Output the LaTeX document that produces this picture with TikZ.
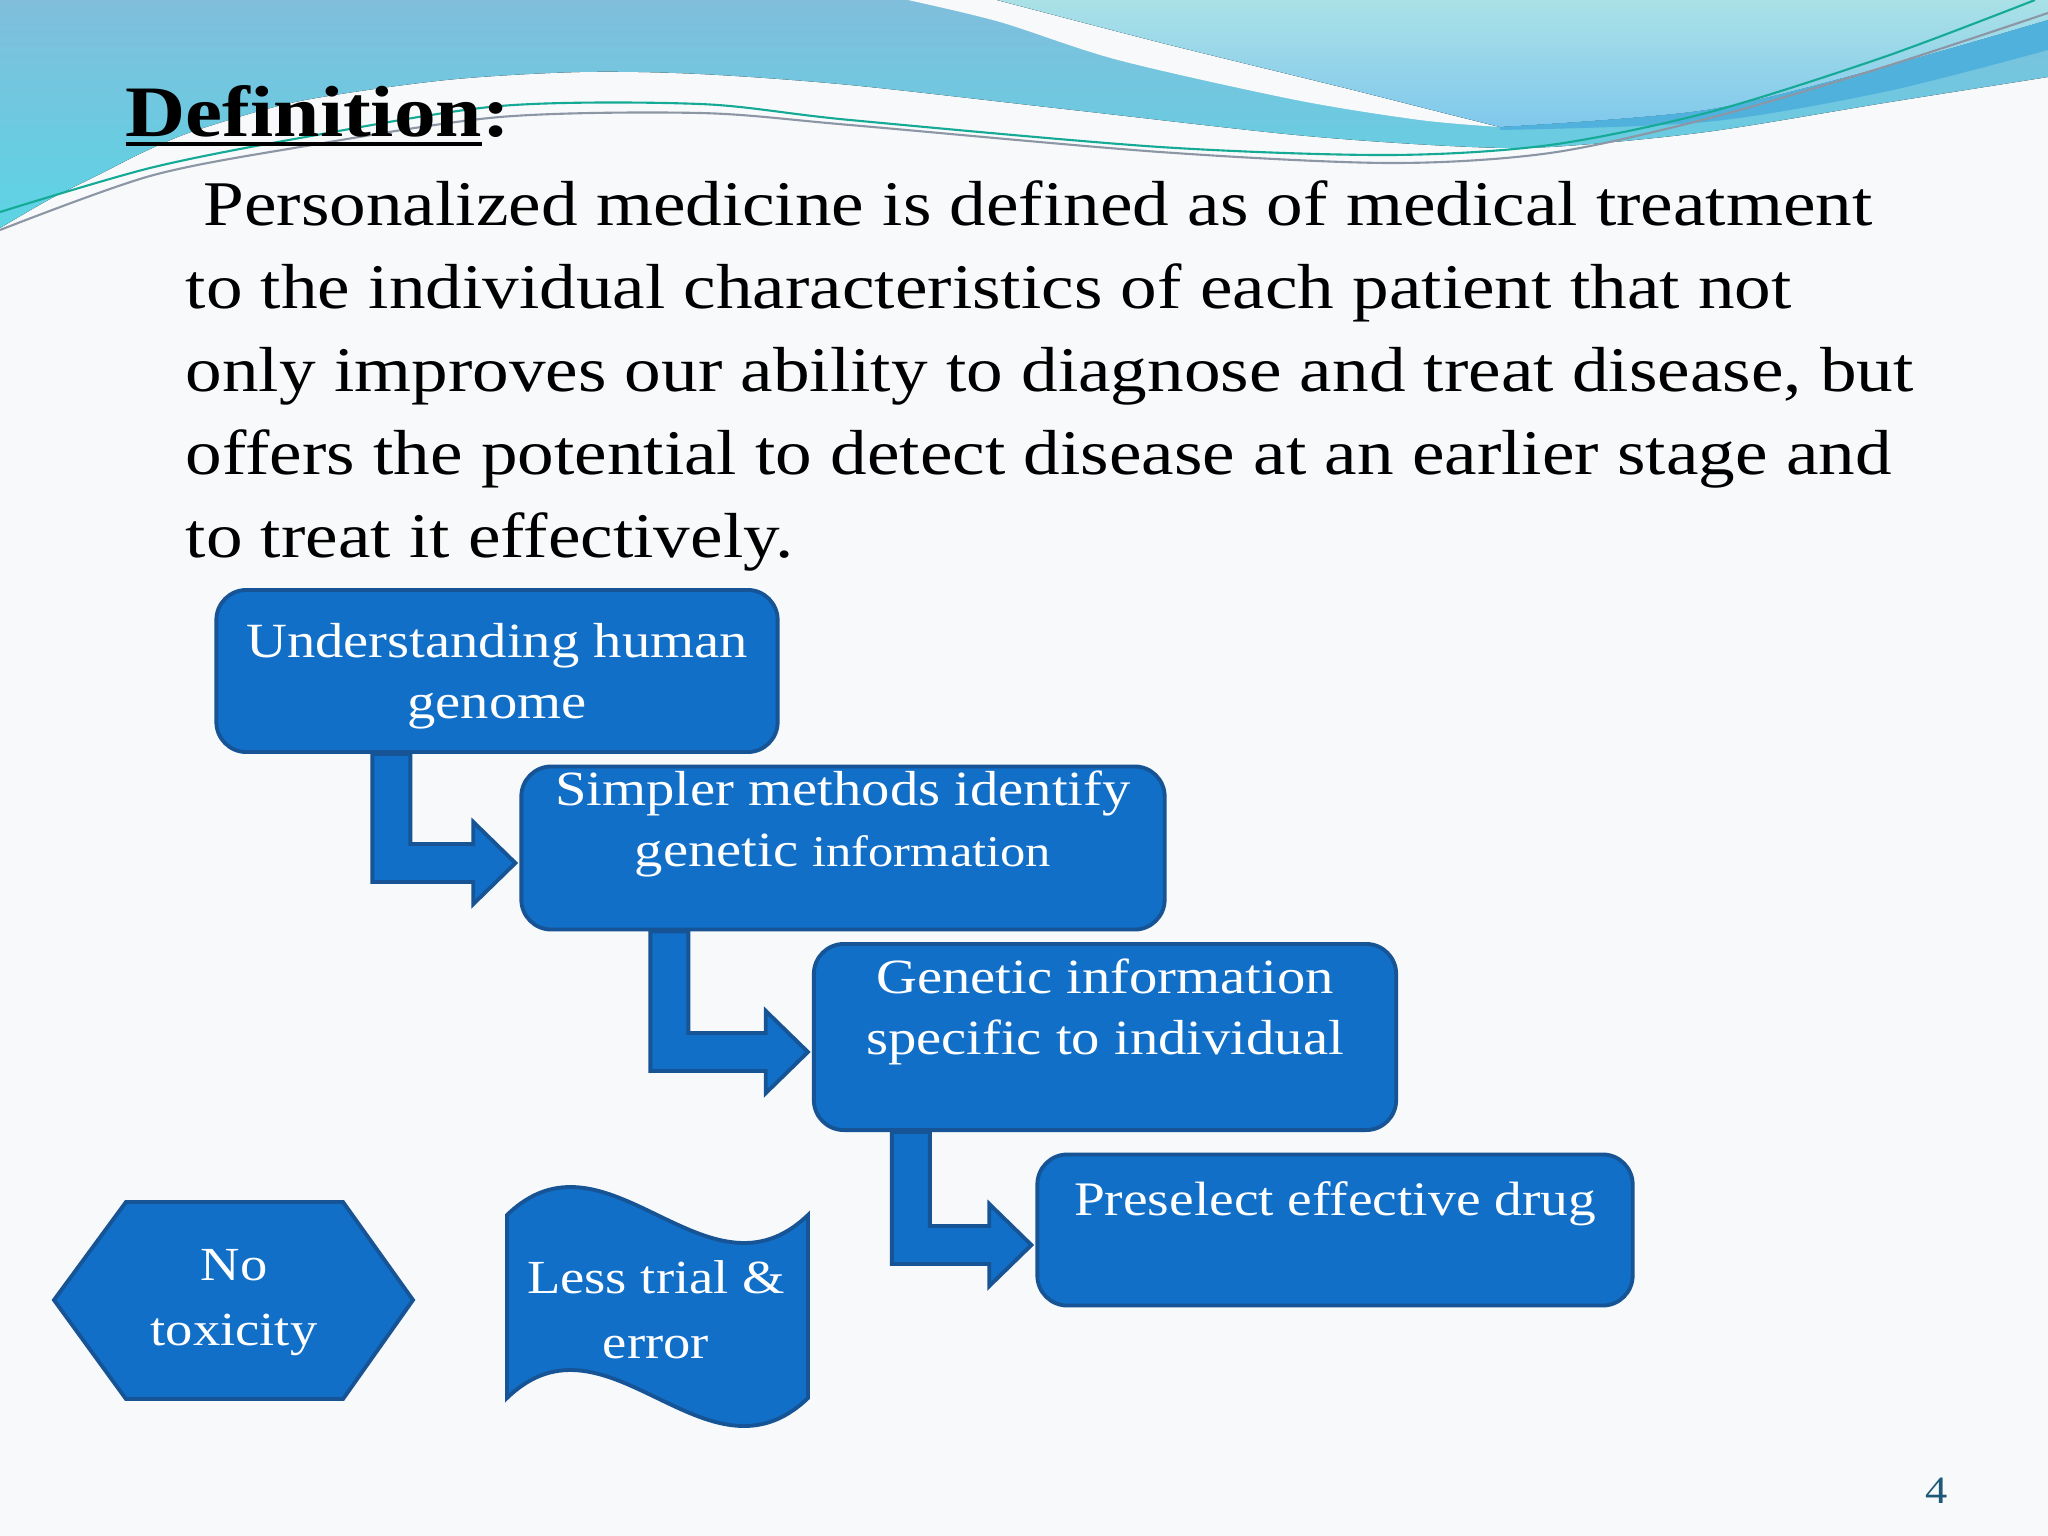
\documentclass[tikz,border=0pt]{standalone}
\usepackage{fontspec}
\setmainfont{Liberation Serif}[FakeStretch=1.15]
\usetikzlibrary{calc}

\definecolor{paper}{RGB}{248,249,250}
\definecolor{wavetop}{RGB}{128,190,220}
\definecolor{wavelow}{RGB}{92,212,228}
\definecolor{aquatop}{RGB}{170,225,231}
\definecolor{aqualow}{RGB}{128,200,236}
\definecolor{bandblue}{RGB}{80,178,220}
\definecolor{linegreen}{RGB}{20,170,150}
\definecolor{linegray}{RGB}{140,150,165}
\definecolor{boxfill}{RGB}{17,111,200}
\definecolor{boxline}{RGB}{22,84,150}
\definecolor{pagenum}{RGB}{30,90,120}

\begin{document}
\begin{tikzpicture}[x=0.01cm,y=-0.01cm,
  flowbox/.style={draw=boxline,fill=boxfill,line width=1.1pt,rounded corners=0.3cm,inner sep=0},
  boxtext/.style={text=white,align=center,font=\fontsize{14}{17.4}\selectfont,inner sep=0},
  shapetext/.style={text=white,align=center,font=\fontsize{13.5}{18.5}\selectfont,inner sep=0},
  bent/.style={draw=boxline,fill=boxfill,line width=1.1pt,line join=miter}]
\useasboundingbox (0,0) rectangle (2048,1536);
\fill[paper] (0,0) rectangle (2048,1536);

% top waves
\fill[top color=wavetop,bottom color=wavelow] (0,0) -- (2048,0) -- (2048,77)
  -- plot[smooth] coordinates {(2048,77) (1884,103) (1706,132) (1550,147) (1450,146)
     (1296,135) (1073,110) (850,85) (700,74) (580,72) (446,80) (300,101) (200,129)
     (150,149) (100,174) (50,199) (0,228)} -- cycle;
\fill[paper] plot[smooth] coordinates {(908,0) (1000,22) (1118,60) (1296,100) (1420,120) (1500,127)}
  -- plot[smooth] coordinates {(1500,127) (1440,112) (1341,87) (1162,43) (997,0)} -- cycle;
\fill[top color=aquatop,bottom color=aqualow] (997,0) -- (2048,0) -- (2048,20)
  -- plot[smooth] coordinates {(2048,20) (1884,67) (1706,110) (1500,127)}
  -- plot[smooth] coordinates {(1500,127) (1440,112) (1341,87) (1162,43) (997,0)} -- cycle;
\fill[bandblue] plot[smooth] coordinates {(1500,127) (1706,110) (1884,67) (2048,20)}
  -- (2048,50) -- plot[smooth] coordinates {(2048,50) (1884,92) (1706,122) (1500,130)} -- cycle;
\draw[linegreen,line width=0.6pt] plot[smooth] coordinates {(0,212) (150,168) (300,138) (500,106)
  (700,104) (850,120) (1160,147) (1390,155) (1550,145) (1710,112) (1884,57) (2035,0)};
\draw[linegray,line width=0.6pt] plot[smooth] coordinates {(0,230) (150,176) (300,147) (500,117)
  (700,113) (850,125) (1160,152) (1390,163) (1550,153) (1710,118) (1884,67) (2048,13)};

% heading and definition
\node[anchor=base west,inner sep=0,font=\fontsize{20.6}{24}\selectfont\bfseries] (title) at (125,136)
  {\setbox0\hbox{Definition}\rlap{\rule[-2.9pt]{\wd0}{1.2pt}}\box0:};
\node[anchor=base west,align=left,inner sep=0,font=\fontsize{18.1}{23.6}\selectfont] (deftext) at (185,557)
  {\hspace*{0.18cm}Personalized medicine is defined as of medical treatment\\
   to the individual characteristics of each patient that not\\
   only improves our ability to diagnose and treat disease, but\\
   offers the potential to detect disease at an earlier stage and\\
   to treat it effectively.};

% flow boxes
\node[flowbox,minimum width=5.61cm,minimum height=1.62cm] (genome) at (497,671) {};
\node[boxtext] (genometxt) at ([yshift=-0.05cm]genome.center) {Understanding human\\genome};
\node[flowbox,minimum width=6.43cm,minimum height=1.63cm] (methods) at (843,848) {};
\node[boxtext] (methodstxt) at ([yshift=0.24cm]methods.center)
  {Simpler methods identify\\genetic {\fontsize{12.5}{17.4}\selectfont information}};
\node[flowbox,minimum width=5.82cm,minimum height=1.86cm] (specific) at (1105,1037) {};
\node[boxtext] (specifictxt) at ([yshift=0.25cm]specific.center) {Genetic information\\specific to individual};
\node[flowbox,minimum width=5.95cm,minimum height=1.51cm] (drug) at (1335,1230) {};
\node[boxtext,font=\fontsize{13.7}{17.4}\selectfont] (drugtxt) at ([yshift=0.26cm]drug.center) {Preselect effective drug};

% bent arrows
\foreach \src/\dst/\off in {genome/methods/177,methods/specific/150,specific/drug/99}
  \filldraw[bent] let \p1=($(\src.south west)+(\off,0)$), \p2=($(\dst.west)+(-4,15)$) in
    (\x1-5.4pt,\y1) -- (\x1+5.4pt,\y1) -- (\x1+5.4pt,\y2+5.4pt) -- (\x2-12pt,\y2+5.4pt)
    -- (\x2-12pt,\y2+11.7pt) -- (\x2,\y2) -- (\x2-12pt,\y2-11.7pt) -- (\x2-12pt,\y2-5.4pt)
    -- (\x1-5.4pt,\y2-5.4pt) -- cycle;

% outcome shapes
\filldraw[bent] (54,1300) -- (126,1202) -- (343,1202) -- (413,1300) -- (343,1399) -- (126,1399) -- cycle;
\node[shapetext] (notox) at (234,1303) {No\\toxicity};
\filldraw[bent] (507,1215) .. controls (607,1118) and (707,1312) .. (808,1215) -- (808,1398)
  .. controls (707,1495) and (607,1301) .. (507,1398) -- cycle;
\node[shapetext] (trial) at (656,1310) {Less trial \&\\error};

\node[font=\fontsize{11}{13}\selectfont,text=pagenum] (page) at (1937,1491) {4};
\end{tikzpicture}
\end{document}
